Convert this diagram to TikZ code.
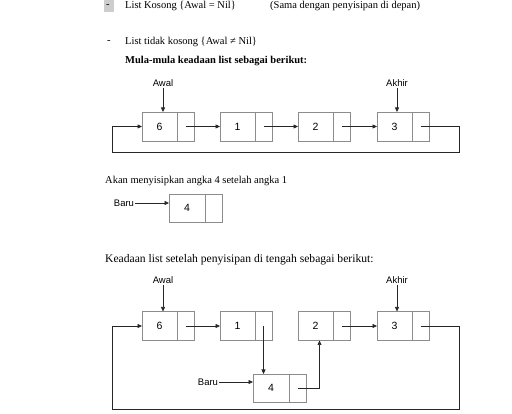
\documentclass[tikz,border=0pt]{standalone}
\usepackage{fontspec}
\setmainfont{Liberation Serif}
\newfontfamily\labelfont{Liberation Sans}
\usetikzlibrary{positioning,arrows.meta}
\definecolor{Cell}{HTML}{8C8C8C}
\definecolor{Tab}{HTML}{CDCDCD}

\begin{document}
\begin{tikzpicture}[x=1pt, y=-1pt, node distance=26pt, every node/.style={font=\fontsize{10.5}{12}\selectfont}]
  \tikzstyle{val}=[draw=Cell, line width=0.6pt, outer sep=0pt, minimum width=35pt, minimum height=29pt, inner sep=0pt, font=\labelfont\fontsize{10.5}{12}\selectfont]
  \tikzstyle{ptr}=[draw=Cell, line width=0.6pt, outer sep=0pt, minimum width=17pt, minimum height=29pt, inner sep=0pt]
  \tikzstyle{tag}=[font=\labelfont\fontsize{9.5}{11}\selectfont, inner sep=1pt]
  \tikzstyle{line}=[anchor=west, inner sep=0pt]
  \tikzstyle{arrow}=[-{Triangle[length=4.5pt, width=4pt]}, line width=0.6pt, color=black!85]

  \useasboundingbox (0,0) rectangle (512,414);

  \fill[Tab] (104,0) rectangle (114,12);
  \node[line] (d1) at (106,6) {-};
  \node[line] (t1) at (125,6) {List Kosong \{Awal = Nil\}};
  \node[line] (t1b) at (270,6) {(Sama dengan penyisipan di depan)};
  \node[line] (d2) at (107,42) {-};
  \node[line] (t2) at (125,42) {List tidak kosong \{Awal ≠ Nil\}};
  \node[line] (t3) at (125,61) {\bfseries Mula-mula keadaan list sebagai berikut:};

  \node[val, anchor=west] (n6) at (142,126.5) {6};
  \node[ptr, right=0pt of n6] (p6) {};
  \node[val, right=of p6] (n1) {1};
  \node[ptr, right=0pt of n1] (p1) {};
  \node[val, right=of p1] (n2) {2};
  \node[ptr, right=0pt of n2] (p2) {};
  \node[val, right=27pt of p2] (n3) {3};
  \node[ptr, right=0pt of n3] (p3) {};
  \node[tag] (awal) at (163,83) {Awal};
  \node[tag] (akhir) at (397,83) {Akhir};
  \coordinate (r1) at (459,152);
  \coordinate (l1) at (112,152);

  \draw[arrow] (awal.south) -- (awal |- n6.north);
  \draw[arrow] (akhir.south) -- (akhir |- n3.north);
  \draw[arrow] (p6.center) -- (n1);
  \draw[arrow] (p1.center) -- (n2);
  \draw[arrow] (p2.center) -- (n3);
  \draw[arrow] (p3.center) -| (r1) -- (l1) |- (n6);

  \node[line] (t4) at (105,181) {Akan menyisipkan angka 4 setelah angka 1};
  \node[val, anchor=west, minimum width=36pt, minimum height=28pt] (n4) at (169,208) {4};
  \node[ptr, right=0pt of n4, minimum height=28pt] (p4) {};
  \node[tag] (baru) at (124,203) {Baru};
  \draw[arrow] (baru.east) -- (baru -| n4.west);

  \node[line, font=\fontsize{11.6}{13}\selectfont] (t5) at (105,260) {Keadaan list setelah penyisipan di tengah sebagai berikut:};

  \node[val, anchor=west] (m6) at (142,326) {6};
  \node[ptr, right=0pt of m6] (q6) {};
  \node[val, right=of q6] (m1) {1};
  \node[ptr, right=0pt of m1] (q1) {};
  \node[val, right=of q1] (m2) {2};
  \node[ptr, right=0pt of m2] (q2) {};
  \node[val, right=27pt of q2] (m3) {3};
  \node[ptr, right=0pt of m3] (q3) {};
  \node[val, anchor=west, minimum width=36pt, minimum height=28pt] (m4) at (253,388) {4};
  \node[ptr, right=0pt of m4, minimum height=28pt] (q4) {};
  \node[tag] (awal2) at (163,280) {Awal};
  \node[tag] (akhir2) at (397,280) {Akhir};
  \node[tag] (baru2) at (208,382) {Baru};
  \coordinate (r2) at (459,409);
  \coordinate (l2) at (112,409);

  \draw[arrow] (awal2.south) -- (awal2 |- m6.north);
  \draw[arrow] (akhir2.south) -- (akhir2 |- m3.north);
  \draw[arrow] (q6.center) -- (m1);
  \draw[arrow] (q1.center) -- (q1.center |- m4.north);
  \draw[arrow] (q4.center) -| ([xshift=4pt]m2.south);
  \draw[arrow] (q2.center) -- (m3);
  \draw[arrow] (baru2.east) -- (baru2 -| m4.west);
  \draw[arrow] (q3.center) -| (r2) -- (l2) |- (m6);
\end{tikzpicture}
\end{document}
